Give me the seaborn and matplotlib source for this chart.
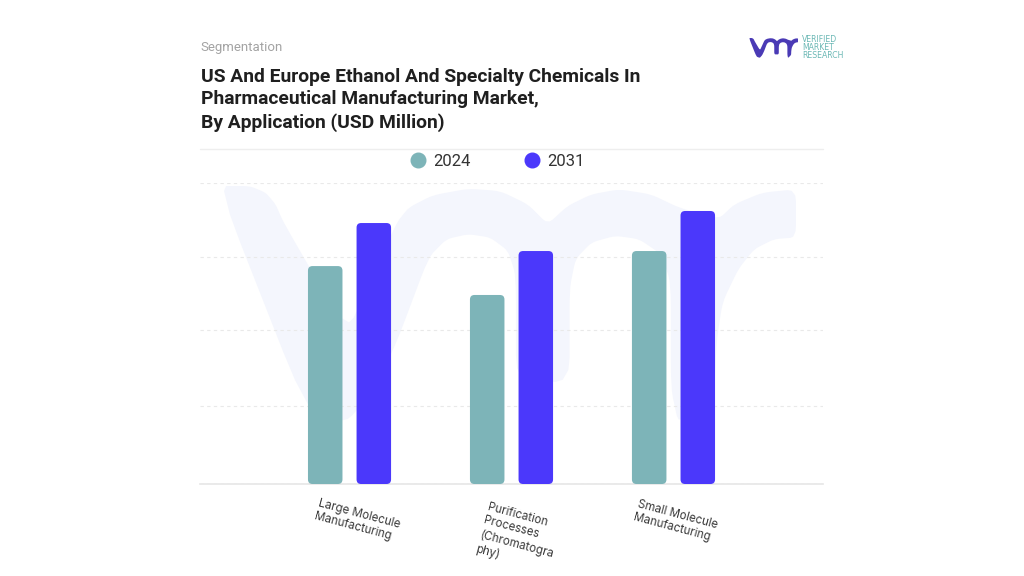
#! /usr/bin/env python3

import pandas as pd
import matplotlib.pyplot as plt
import seaborn as sns
from matplotlib.lines import Line2D
from matplotlib.patches import FancyBboxPatch, Polygon

W, H = 1024, 576

categories = ['Large Molecule\nManufacturing',
              'Purification\nProcesses\n(Chromatogra\nphy)',
              'Small Molecule\nManufacturing']
years = ['2024', '2031']
values_2024 = [72.4, 62.8, 77.4]
values_2031 = [86.7, 77.4, 90.7]
y_ticks = [0, 26, 51, 75.4, 100]

TEAL = '#7db4b8'
BLUE = '#4b38fb'

# outline of the vmr mark, traced by eye
mark_outline = [
    (50, 30), (130, 30), (170, 50), (195, 85), (215, 140), (375, 470), (440, 300),
    (500, 140), (530, 95), (590, 58), (680, 38), (760, 45), (830, 85), (880, 145),
    (930, 90), (990, 55), (1060, 40), (1140, 55), (1210, 95), (1310, 130), (1350, 85),
    (1420, 50), (1505, 40), (1505, 185), (1450, 190), (1400, 220), (1360, 280),
    (1320, 380), (1305, 500), (1300, 640), (1210, 750), (1190, 640), (1190, 320),
    (1165, 235), (1110, 190), (1050, 180), (990, 200), (950, 250), (935, 340),
    (935, 620), (800, 620), (800, 300), (780, 225), (735, 185), (680, 175), (625, 190),
    (580, 245), (500, 500), (440, 650), (370, 745), (270, 700),
]

sns.set_theme(style='white')
plt.rcParams['font.family'] = ['Roboto', 'DejaVu Sans']

data = pd.DataFrame({
    'cat': categories * 2,
    'year': [years[0]] * 3 + [years[1]] * 3,
    'value': values_2024 + values_2031,
})


def fx(px):
    return px / W


def fy(py):
    return 1 - py / H


def soften(points, cut=0.15):
    # one pass of corner cutting so the traced outline looks less faceted
    out = []
    for i, (x, y) in enumerate(points):
        nx, ny = points[(i + 1) % len(points)]
        out.append((x + (nx - x) * cut, y + (ny - y) * cut))
        out.append((x + (nx - x) * (1 - cut), y + (ny - y) * (1 - cut)))
    return out


def draw_mark(fig, x0, y0, x1, y1, color, zorder=0):
    # fit the outline into a pixel box
    xs = [p[0] for p in mark_outline]
    ys = [p[1] for p in mark_outline]
    pts = []
    for x, y in soften(soften(mark_outline)):
        px = x0 + (x - min(xs)) / (max(xs) - min(xs)) * (x1 - x0)
        py = y0 + (y - min(ys)) / (max(ys) - min(ys)) * (y1 - y0)
        pts.append((fx(px), fy(py)))
    fig.add_artist(Polygon(pts, closed=True, fc=color, ec='none', zorder=zorder,
                           transform=fig.transFigure))


fig = plt.figure(figsize=(W / 100, H / 100), dpi=100, facecolor='white')

# faint watermark behind the plot
draw_mark(fig, 218, 186, 796, 425, '#f4f6fd')

ax = fig.add_axes([fx(200), fy(484), 623 / W, 301 / H])
ax.patch.set_alpha(0)
sns.barplot(data=data, x='cat', y='value', hue='year', hue_order=years,
            palette=[TEAL, BLUE], width=0.6, gap=0.29, saturation=1,
            legend=False, ax=ax)
ax.set_xlim(1 - 1.923, 1 + 1.923)
ax.set_ylim(y_ticks[0], y_ticks[-1])

# rounded corners on the bars
x_px = 623 / (2 * 1.923)
y_px = 301 / 100
for bar in list(ax.patches):
    x, w, h = bar.get_x(), bar.get_width(), bar.get_height()
    ax.add_patch(FancyBboxPatch((x, 0), w, h, mutation_aspect=x_px / y_px,
                                boxstyle='round,pad=0,rounding_size=0.028',
                                fc=bar.get_facecolor(), ec='none', zorder=3))
    bar.remove()

ax.set_xlabel('')
ax.set_ylabel('')
ax.set_yticks(y_ticks)
ax.set_yticklabels([])
ax.tick_params(length=0)
ax.yaxis.grid(True, color='#e9e9e9', linestyle=(0, (3, 3)), linewidth=0.8)
ax.set_axisbelow(True)
sns.despine(ax=ax, left=True)
ax.spines['bottom'].set_color('#e6e6e6')
ax.spines['bottom'].set_linewidth(1.2)

ax.set_xticks(range(3))
ax.set_xticklabels([])
label_px = [(320, 497), (489, 501), (639, 498)]
for cat, (px, py) in zip(categories, label_px):
    fig.text(fx(px), fy(py), cat, rotation=-15, ha='left', va='top',
             rotation_mode='anchor', fontsize=8.3, color='#3a3a3a',
             family=['Inter', 'DejaVu Sans'], linespacing=1.25, multialignment='left')

# rule above the legend
fig.add_artist(Line2D([fx(200), fx(823)], [fy(149), fy(149)], color='#eeeeee', lw=1))

handles = [Line2D([], [], ls='', marker='o', ms=10.5, color=c) for c in [TEAL, BLUE]]
fig.legend(handles, years, loc='center', bbox_to_anchor=(fx(497), fy(161)), ncol=2,
           frameon=False, fontsize=12, labelcolor='#333333', columnspacing=3.2,
           handlelength=1, handletextpad=0.42, borderpad=0)

fig.text(fx(200), fy(48), 'Segmentation', fontsize=9.5, color='#a3a3a3', va='center')
title = ['US And Europe Ethanol And Specialty Chemicals In',
         'Pharmaceutical Manufacturing Market,',
         'By Application (USD Million)']
for line, py in zip(title, [76.5, 99.5, 122.5]):
    fig.text(fx(201), fy(py), line, fontsize=13.9, fontweight='bold',
             color='#1f1f1f', va='center')

# logo
draw_mark(fig, 749, 38, 798, 58, '#4a3ab5', zorder=5)
for line, py in zip(['VERIFIED', 'MARKET', 'RESEARCH'], [40, 47.5, 55.5]):
    fig.text(fx(802), fy(py), line, fontsize=5.6, color='#6bb8b5', va='center',
             family='DejaVu Sans')

fig.savefig('out.png', dpi=100)
